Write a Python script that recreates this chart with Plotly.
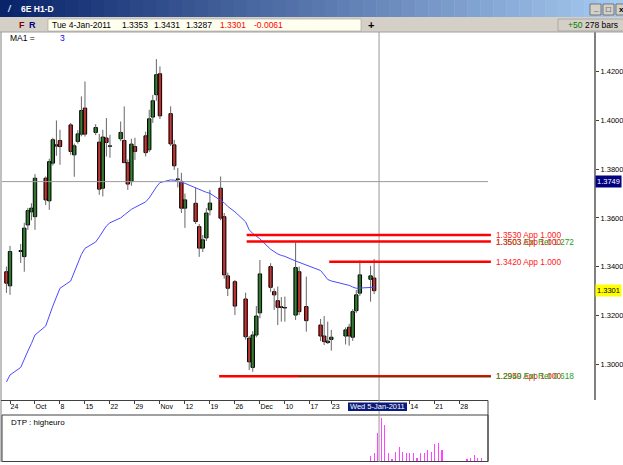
import plotly.graph_objects as go
from datetime import datetime, timedelta

W, H = 623, 465
FONT = "Liberation Sans"

# ---------------- data ----------------
dates = ["2010-09-23", "2010-09-24", "2010-09-27", "2010-09-28", "2010-09-29", "2010-09-30", "2010-10-01",
         "2010-10-04", "2010-10-05", "2010-10-06", "2010-10-07", "2010-10-08",
         "2010-10-11", "2010-10-12", "2010-10-13", "2010-10-14", "2010-10-15",
         "2010-10-18", "2010-10-19", "2010-10-20", "2010-10-21", "2010-10-22",
         "2010-10-25", "2010-10-26", "2010-10-27", "2010-10-28", "2010-10-29",
         "2010-11-01", "2010-11-02", "2010-11-03", "2010-11-04", "2010-11-05",
         "2010-11-08", "2010-11-09", "2010-11-10", "2010-11-11", "2010-11-12",
         "2010-11-15", "2010-11-16", "2010-11-17", "2010-11-18", "2010-11-19",
         "2010-11-22", "2010-11-23", "2010-11-24", "2010-11-26",
         "2010-11-29", "2010-11-30", "2010-12-01", "2010-12-02", "2010-12-03",
         "2010-12-06", "2010-12-07", "2010-12-08", "2010-12-09", "2010-12-10",
         "2010-12-13", "2010-12-14", "2010-12-16",
         "2010-12-20", "2010-12-21", "2010-12-22", "2010-12-23",
         "2010-12-27", "2010-12-28", "2010-12-29", "2010-12-30", "2010-12-31",
         "2011-01-03", "2011-01-04"]
opens = [1.3379, 1.3321, 1.3462, 1.3441, 1.3571, 1.3625, 1.3605,
         1.3763, 1.3670, 1.3825, 1.3895, 1.3918,
         1.3982, 1.3859, 1.3914, 1.3944, 1.4051,
         1.3951, 1.3911, 1.3722, 1.3928, 1.3894,
         1.3925, 1.3918, 1.3827, 1.3749, 1.3893,
         1.3937, 1.3880, 1.4014, 1.4106, 1.4192,
         1.4028, 1.3900, 1.3760, 1.3750, 1.3640,
         1.3660, 1.3564, 1.3476, 1.3518, 1.3633,
         1.3722, 1.3605, 1.3362, 1.3338,
         1.3267, 1.3106, 1.2986, 1.3119, 1.3210,
         1.3400, 1.3297, 1.3260, 1.3235, 1.3232,
         1.3201, 1.3379, 1.3236,
         1.3160, 1.3115, 1.3094, 1.3101,
         1.3115, 1.3151, 1.3110, 1.3219, 1.3291,
         1.3348, 1.3353]
highs = [1.3400, 1.3485, 1.3493, 1.3580, 1.3641, 1.3660, 1.3780,
         1.3770, 1.3843, 1.3929, 1.4000, 1.3962,
         1.3990, 1.3905, 1.3960, 1.4099, 1.4160,
         1.3985, 1.3945, 1.3962, 1.4010, 1.3941,
         1.3996, 1.4058, 1.3840, 1.3925, 1.3929,
         1.3954, 1.4044, 1.4105, 1.4252, 1.4222,
         1.4058, 1.3920, 1.3805, 1.3785, 1.3700,
         1.3723, 1.3575, 1.3530, 1.3640, 1.3715,
         1.3770, 1.3620, 1.3375, 1.3345,
         1.3293, 1.3115, 1.3135, 1.3238, 1.3427,
         1.3414, 1.3310, 1.3318, 1.3275, 1.3277,
         1.3499, 1.3400, 1.3359,
         1.3185, 1.3197, 1.3174, 1.3140,
         1.3150, 1.3165, 1.3225, 1.3304, 1.3425,
         1.3403, 1.3431]
lows = [1.3292, 1.3284, 1.3415, 1.3379, 1.3551, 1.3590, 1.3551,
        1.3653, 1.3633, 1.3815, 1.3855, 1.3818,
        1.3859, 1.3769, 1.3905, 1.3935, 1.3934,
        1.3940, 1.3695, 1.3688, 1.3852, 1.3847,
        1.3915, 1.3825, 1.3715, 1.3732, 1.3838,
        1.3852, 1.3870, 1.3990, 1.4081, 1.4006,
        1.3895, 1.3797, 1.3725, 1.3620, 1.3559,
        1.3575, 1.3440, 1.3460, 1.3505, 1.3610,
        1.3590, 1.3350, 1.3279, 1.3201,
        1.3100, 1.2975, 1.2968, 1.3110, 1.3188,
        1.3296, 1.3222, 1.3160, 1.3174, 1.3174,
        1.3181, 1.3201, 1.3133,
        1.3094, 1.3078, 1.3082, 1.3055,
        1.3080, 1.3075, 1.3095, 1.3210, 1.3280,
        1.3256, 1.3287]
closes = [1.3332, 1.3462, 1.3466, 1.3558, 1.3630, 1.3640, 1.3763,
          1.3674, 1.3831, 1.3921, 1.3900, 1.3893,
          1.3873, 1.3896, 1.3945, 1.4041, 1.3944,
          1.3971, 1.3718, 1.3932, 1.3910, 1.3896,
          1.3951, 1.3827, 1.3739, 1.3903, 1.3873,
          1.3868, 1.4007, 1.4081, 1.4188, 1.4019,
          1.3904, 1.3814, 1.3758, 1.3640, 1.3674,
          1.3585, 1.3476, 1.3510, 1.3620, 1.3661,
          1.3599, 1.3366, 1.3311, 1.3238,
          1.3112, 1.3009, 1.3119, 1.3197, 1.3370,
          1.3315, 1.3284, 1.3233, 1.3232, 1.3230,
          1.3396, 1.3215, 1.3178,
          1.3115, 1.3092, 1.3088, 1.3110,
          1.3140, 1.3115, 1.3215, 1.3284, 1.3366,
          1.3362, 1.3301]
ma_values = [1.2926, 1.2955, 1.2986, 1.3022, 1.3053, 1.3084, 1.3119,
             1.3156, 1.3199, 1.3238, 1.3275, 1.3311,
             1.3341, 1.3380, 1.3411, 1.3450, 1.3475,
             1.3501, 1.3522, 1.3543, 1.3567, 1.3580,
             1.3600, 1.3612, 1.3625, 1.3635, 1.3643,
             1.3666, 1.3682, 1.3707, 1.3727, 1.3745,
             1.3756, 1.3755, 1.3752, 1.3746, 1.3742,
             1.3723, 1.3715, 1.3709, 1.3705, 1.3701,
             1.3674, 1.3662, 1.3647, 1.3625,
             1.3584, 1.3551, 1.3536, 1.3524, 1.3514,
             1.3471, 1.3460, 1.3452, 1.3446, 1.3442,
             1.3423, 1.3417, 1.3405,
             1.3384, 1.3366, 1.3347, 1.3341,
             1.3329, 1.3323, 1.3316, 1.3311, 1.3312,
             1.3315, 1.3315]

tick_dates = ["2010-09-24", "2010-10-01", "2010-10-08", "2010-10-15", "2010-10-22", "2010-10-29",
              "2010-11-05", "2010-11-12", "2010-11-19", "2010-11-26", "2010-12-03", "2010-12-10",
              "2010-12-17", "2010-12-23", "2011-01-14", "2011-01-21", "2011-01-28"]
tick_labels = ["24", "Oct", "8", "15", "22", "29", "Nov", "12", "19", "26", "Dec", "10",
               "17", "23", "14", "21", "28"]

# projected levels (red = App, green = Ext Ret)
level_prices = [1.3530, 1.3503, 1.3420, 1.2950]
level_starts = ["2010-11-29 07:00", "2010-11-29 07:00", "2010-12-22 10:00", "2010-11-21 14:00"]
level_texts = ["1.3530 App 1.000", "1.3503 App 1.000", "1.3420 App 1.000", "1.2950 App 1.000"]
ext_prices = [1.3503, 1.2949]
ext_starts = ["2010-12-13 17:00", "2010-12-13 17:00"]
ext_texts = ["1.3503 Ext Ret 1.272", "1.2949 Ext Ret 0.618"]
level_end = "2011-02-05 17:00"

# DTP histogram (daily projected)
dtp_dates = ["2011-01-03", "2011-01-04", "2011-01-05", "2011-01-06", "2011-01-07", "2011-01-08",
             "2011-01-09", "2011-01-10", "2011-01-11", "2011-01-12", "2011-01-13", "2011-01-14",
             "2011-01-15", "2011-01-16", "2011-01-17", "2011-01-18", "2011-01-19", "2011-01-20",
             "2011-01-21", "2011-01-22", "2011-01-23", "2011-01-30", "2011-01-31", "2011-02-01",
             "2011-02-02", "2011-02-03"]
dtp_values = [5.7, 9, 29, 43.4, 36.4, 9, 3, 9.7, 14.7, 10, 9, 9, 9, 4, 9, 9, 11.4, 9.7,
              17.4, 18.4, 11.4, 3, 4, 6.3, 4, 4]

cursor_date = "2011-01-05 09:00"
cursor_price = 1.3749
cursor_label = "Wed 5-Jan-2011"
chart_end = "2011-02-04 22:00"

# ---------------- geometry helpers ----------------
def X(p):
    return p / W

def Y(p):
    return 1 - p / H

origin = datetime(2010, 9, 24)
ppd = 3.57
x_start = origin - timedelta(days=8 / ppd)
x_end = origin + timedelta(days=584 / ppd)
DAY = 86400000

fig = go.Figure()

# wicks
wx, wy = [], []
for d, hi, lo in zip(dates, highs, lows):
    wx += [d, d, None]
    wy += [lo, hi, None]
fig.add_trace(go.Scatter(x=wx, y=wy, mode="lines", line=dict(color="#666666", width=1),
                         hoverinfo="skip"))

# bodies
base = [min(o, c) for o, c in zip(opens, closes)]
hgt = [max(abs(c - o), 0.00006) for o, c in zip(opens, closes)]
cols = ["#008000" if c >= o else "#ff0000" for o, c in zip(opens, closes)]
fig.add_trace(go.Bar(x=dates, y=hgt, base=base, width=[0.95 * DAY] * len(dates),
                     marker=dict(color=cols, line=dict(color="#000000", width=1))))

# moving average
fig.add_trace(go.Scatter(x=dates, y=ma_values, mode="lines",
                         line=dict(color="#4a4aff", width=1), hoverinfo="skip"))

# DTP histogram
fig.add_trace(go.Bar(x=dtp_dates, y=dtp_values, width=[0.3 * DAY] * len(dtp_dates),
                     marker=dict(color="#ff44ff", line=dict(width=0)),
                     xaxis="x2", yaxis="y2"))

shapes = []
# title bar gradient
n = 48
c0 = (10, 36, 106)
c1 = (166, 202, 240)
for i in range(n):
    t = i / (n - 1)
    col = "rgb(%d,%d,%d)" % tuple(int(a + (b - a) * t) for a, b in zip(c0, c1))
    shapes.append(dict(type="rect", xref="paper", yref="paper", x0=X(W * i / n), x1=X(W * (i + 1) / n + 0.5),
                       y0=Y(17), y1=Y(0), fillcolor=col, line=dict(width=0), layer="below"))
# window buttons
for x0, x1 in [(590, 601), (603, 614), (616, 627)]:
    shapes.append(dict(type="rect", xref="paper", yref="paper", x0=X(x0), x1=X(x1), y0=Y(15), y1=Y(4),
                       fillcolor="#d4d0c8", line=dict(color="#404040", width=0.6)))
# toolbar
shapes.append(dict(type="rect", xref="paper", yref="paper", x0=0, x1=1, y0=Y(32), y1=Y(17),
                   fillcolor="#d4d0c8", line=dict(width=0), layer="below"))
shapes.append(dict(type="rect", xref="paper", yref="paper", x0=X(48), x1=X(361), y0=Y(31), y1=Y(19),
                   fillcolor="#fffff0", line=dict(color="#a0a0a0", width=0.6), layer="below"))
shapes.append(dict(type="rect", xref="paper", yref="paper", x0=X(558), x1=X(624), y0=Y(31), y1=Y(19),
                   fillcolor="#d4d0c8", line=dict(color="#909090", width=0.6), layer="below"))
# chart borders
shapes.append(dict(type="line", xref="paper", yref="paper", x0=X(1), x1=X(1), y0=Y(462), y1=Y(32),
                   line=dict(color="#808080", width=1)))
shapes.append(dict(type="line", xref="paper", yref="paper", x0=0, x1=1, y0=Y(32), y1=Y(32),
                   line=dict(color="#a0a0a0", width=1)))
shapes.append(dict(type="line", xref="paper", yref="paper", x0=X(1), x1=X(488), y0=Y(400.5), y1=Y(400.5),
                   line=dict(color="#404040", width=1)))
shapes.append(dict(type="rect", xref="paper", yref="paper", x0=X(2), x1=X(488), y0=Y(461.5), y1=Y(415),
                   line=dict(color="#404040", width=1)))
shapes.append(dict(type="line", xref="paper", yref="paper", x0=X(488), x1=X(488), y0=Y(461.5), y1=Y(400.5),
                   line=dict(color="#404040", width=1)))
# crosshair
shapes.append(dict(type="line", xref="x", yref="paper", x0=cursor_date, x1=cursor_date, y0=Y(462), y1=Y(32),
                   line=dict(color="#9a9a9a", width=1)))
shapes.append(dict(type="line", xref="x", yref="y", x0=x_start, x1=chart_end, y0=cursor_price, y1=cursor_price,
                   line=dict(color="#9a9a9a", width=1)))
# levels
for p, s in zip(level_prices, level_starts):
    shapes.append(dict(type="line", xref="x", yref="y", x0=s, x1=level_end, y0=p, y1=p,
                       line=dict(color="#ff0000", width=2.5)))
shapes.append(dict(type="line", xref="x", yref="y", x0=ext_starts[1], x1=level_end, y0=ext_prices[1], y1=ext_prices[1],
                   line=dict(color="#405000", width=1)))
# date highlight box
shapes.append(dict(type="rect", xref="paper", yref="paper", x0=X(348), x1=X(407), y0=Y(411), y1=Y(402.5),
                   fillcolor="#0a1a7a", line=dict(width=0)))

ann = []
def txt(x, y, s, size=8, color="#000000", bold=False, anchor="left", yref="paper", bg=None, pad=0):
    a = dict(x=X(x), y=(Y(y) if yref == "paper" else y), xref="paper", yref=yref,
             text=("<b>%s</b>" % s if bold else s), showarrow=False, xanchor=anchor, yanchor="middle",
             font=dict(family=FONT, size=size, color=color))
    if bg:
        a["bgcolor"] = bg
        a["borderpad"] = pad
    ann.append(a)

txt(5, 9, "<i>/</i>", 9, "#cfe0ff", True)
txt(19, 9, "6E H1-D", 8.5, "#ffffff", True)
txt(595.5, 8.5, "_", 8, "#000000", True, "center")
txt(608.5, 9.5, "□", 8, "#000000", False, "center")
txt(621, 9.5, "x", 8, "#000000", True, "center")
txt(22, 25, "F", 9, "#800000", True, "center")
txt(32, 25, "R", 9, "#000080", True, "center")
txt(50, 25, "Tue 4-Jan-2011", 8.5)
txt(120, 25, "%.4f" % opens[-1], 8.5)
txt(152, 25, "%.4f" % highs[-1], 8.5)
txt(184, 25, "%.4f" % lows[-1], 8.5)
txt(218, 25, "%.4f" % closes[-1], 8.5, "#ff0000")
txt(252, 25, "%.4f" % (closes[-1] - closes[-2]), 8.5, "#ff0000")
txt(371, 25, "+", 11, "#000000", True, "center")
txt(566, 25, "+50", 8.5, "#008000")
txt(583, 25, "278 bars", 8.5)
txt(8, 38, "MA1 =", 8.5)
txt(58, 38, "3", 8.5, "#0000ff")
txt(9, 422, "DTP : higheuro", 8)
txt(377.5, 406.8, cursor_label, 7.5, "#ffffff", False, "center")

# level labels (overlapping pairs as in the original study output)
LBL = 8.3
ann.append(dict(x=X(494), y=ext_prices[0], xref="paper", yref="y", text=ext_texts[0], showarrow=False,
                xanchor="left", yanchor="middle", font=dict(family=FONT, size=LBL, color="#20a020")))
for p, t in zip(level_prices, level_texts):
    ann.append(dict(x=X(494), y=p, xref="paper", yref="y", text=t, showarrow=False,
                    xanchor="left", yanchor="middle", font=dict(family=FONT, size=LBL, color="#ff2020")))
ann.append(dict(x=X(494), y=ext_prices[1], xref="paper", yref="y", text=ext_texts[1], showarrow=False,
                xanchor="left", yanchor="middle", font=dict(family=FONT, size=LBL, color="#20a020")))

# price flags
ann.append(dict(x=X(595), y=cursor_price, xref="paper", yref="y", text="%.4f" % cursor_price, showarrow=False,
                xanchor="left", yanchor="middle", bgcolor="#000080", borderpad=1,
                font=dict(family=FONT, size=7.5, color="#ffffff")))
ann.append(dict(x=X(595), y=closes[-1], xref="paper", yref="y", text="%.4f" % closes[-1], showarrow=False,
                xanchor="left", yanchor="middle", bgcolor="#ffff00", borderpad=1,
                font=dict(family=FONT, size=7.5, color="#000000")))

fig.update_layout(
    width=W, height=H, margin=dict(l=0, r=0, t=0, b=0),
    paper_bgcolor="#ffffff", plot_bgcolor="#ffffff", showlegend=False,
    barmode="overlay", bargap=0, hovermode=False,
    shapes=shapes, annotations=ann,
    xaxis=dict(type="date", domain=[X(2), X(594)], range=[x_start, x_end], anchor="y",
               tickmode="array", tickvals=tick_dates, ticktext=tick_labels,
               ticks="outside", ticklen=3, tickcolor="#404040",
               ticklabelposition="outside right",
               tickfont=dict(family=FONT, size=7, color="#000000"),
               showgrid=False, showline=False, zeroline=False),
    yaxis=dict(domain=[Y(400), Y(32)], range=[1.28522, 1.43634], side="right", anchor="x",
               tickmode="linear", tick0=1.30, dtick=0.02, tickformat=".4f",
               ticks="outside", ticklen=3, tickcolor="#404040",
               tickfont=dict(family=FONT, size=7.5, color="#000000"),
               showline=True, linecolor="#808080", linewidth=2,
               showgrid=False, zeroline=False),
    xaxis2=dict(type="date", domain=[X(2), X(594)], matches="x", anchor="y2", visible=False),
    yaxis2=dict(domain=[Y(461.5), Y(415)], range=[0, 46.5], anchor="x2", visible=False),
)

fig.write_html("out.html", config={"displayModeBar": False, "staticPlot": True},
               post_script="document.body.style.margin='0px';document.body.style.padding='0px';"
                           "document.body.style.overflow='hidden';")
